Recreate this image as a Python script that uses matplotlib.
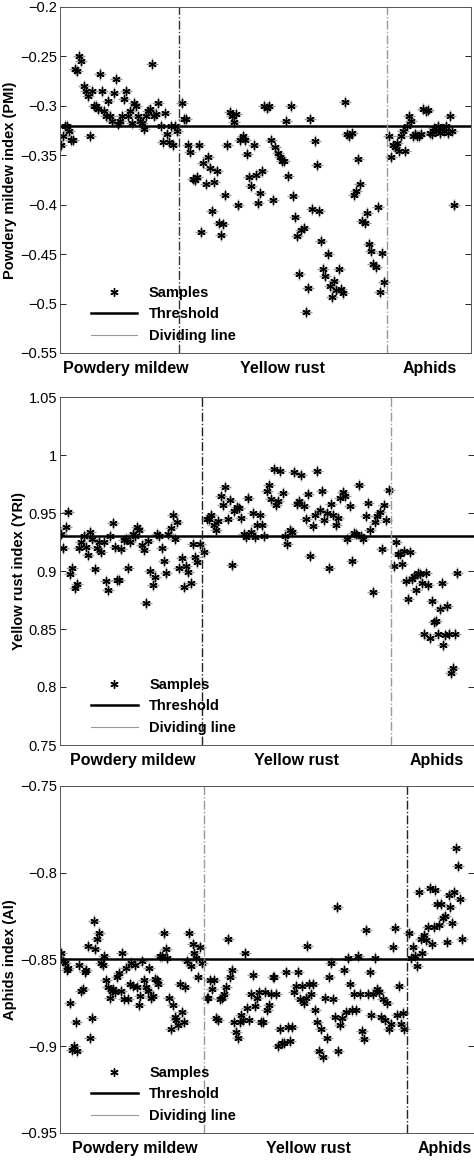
import numpy as np
import matplotlib.pyplot as plt

plt.rcParams['font.family'] = ['Liberation Sans', 'DejaVu Sans']

# ---- panel 1: PMI ----
pmi_pm = [-0.34, -0.33, -0.32, -0.32, -0.325, -0.335, -0.335, -0.263, -0.265, -0.25, -0.255, -0.28,
          -0.285, -0.29, -0.33, -0.285, -0.3, -0.3, -0.303, -0.268, -0.285, -0.305, -0.31, -0.295,
          -0.31, -0.315, -0.287, -0.273, -0.318, -0.315, -0.31, -0.293, -0.285, -0.31, -0.305, -0.317,
          -0.297, -0.3, -0.31, -0.315, -0.317, -0.323, -0.31, -0.305, -0.303, -0.258, -0.31, -0.308,
          -0.297, -0.32, -0.337, -0.307, -0.328, -0.337, -0.32, -0.34, -0.32, -0.325]
pmi_yr = [-0.297, -0.313, -0.313, -0.34, -0.347, -0.374, -0.375, -0.372, -0.34, -0.428, -0.358, -0.379,
          -0.352, -0.363, -0.406, -0.377, -0.366, -0.418, -0.431, -0.42, -0.39, -0.34, -0.306, -0.31,
          -0.316, -0.308, -0.4, -0.335, -0.33, -0.335, -0.349, -0.372, -0.381, -0.34, -0.37, -0.398,
          -0.388, -0.366, -0.3, -0.302, -0.3, -0.335, -0.395, -0.342, -0.348, -0.352, -0.356, -0.356,
          -0.315, -0.371, -0.3, -0.391, -0.412, -0.432, -0.47, -0.426, -0.424, -0.509, -0.484, -0.313,
          -0.404, -0.336, -0.36, -0.406, -0.437, -0.465, -0.472, -0.45, -0.482, -0.493, -0.477, -0.486,
          -0.465, -0.485, -0.489, -0.296, -0.328, -0.33, -0.327, -0.39, -0.386, -0.354, -0.379, -0.416,
          -0.418, -0.408, -0.44, -0.447, -0.46, -0.463, -0.402, -0.488, -0.449, -0.478]
pmi_ap = [-0.33, -0.352, -0.34, -0.342, -0.338, -0.346, -0.33, -0.325, -0.346, -0.32, -0.31, -0.315,
          -0.33, -0.328, -0.33, -0.33, -0.328, -0.303, -0.305, -0.304, -0.327, -0.328, -0.322, -0.325,
          -0.32, -0.327, -0.323, -0.325, -0.32, -0.327, -0.31, -0.325, -0.4]

# ---- panel 2: YRI ----
yri_pm = [0.932, 0.92, 0.938, 0.951, 0.897, 0.903, 0.885, 0.889, 0.92, 0.925, 0.93, 0.921, 0.914,
          0.934, 0.928, 0.902, 0.92, 0.925, 0.916, 0.925, 0.891, 0.884, 0.93, 0.941, 0.921, 0.892,
          0.892, 0.919, 0.927, 0.928, 0.903, 0.925, 0.932, 0.93, 0.938, 0.935, 0.922, 0.918, 0.872,
          0.926, 0.9, 0.888, 0.895, 0.932, 0.93, 0.92, 0.909, 0.898, 0.932, 0.937, 0.948, 0.928,
          0.942, 0.903, 0.911, 0.886, 0.904, 0.899, 0.89, 0.923, 0.912, 0.908, 0.923]
yri_yr = [0.916, 0.945, 0.945, 0.948, 0.94, 0.935, 0.943, 0.965, 0.957, 0.972, 0.945, 0.961, 0.905,
          0.952, 0.955, 0.954, 0.946, 0.932, 0.929, 0.963, 0.934, 0.95, 0.929, 0.94, 0.948, 0.94,
          0.93, 0.969, 0.974, 0.962, 0.988, 0.957, 0.96, 0.986, 0.967, 0.93, 0.923, 0.935, 0.934,
          0.985, 0.958, 0.96, 0.983, 0.956, 0.945, 0.966, 0.913, 0.939, 0.948, 0.986, 0.953, 0.969,
          0.944, 0.95, 0.903, 0.958, 0.948, 0.94, 0.946, 0.963, 0.968, 0.965, 0.928, 0.956, 0.909,
          0.933, 0.932, 0.974, 0.93, 0.928, 0.947, 0.959, 0.935, 0.882, 0.942, 0.947, 0.951, 0.919,
          0.957, 0.944, 0.97]
yri_ap = [0.904, 0.925, 0.915, 0.915, 0.906, 0.917, 0.891, 0.876, 0.916, 0.893, 0.896, 0.884, 0.898,
          0.897, 0.89, 0.846, 0.898, 0.888, 0.842, 0.874, 0.856, 0.857, 0.846, 0.867, 0.89, 0.836,
          0.845, 0.87, 0.846, 0.812, 0.816, 0.846, 0.898]

# ---- panel 3: AI ----
ai_pm = [-0.846, -0.851, -0.852, -0.856, -0.855, -0.875, -0.902, -0.9, -0.886, -0.903, -0.853, -0.868,
         -0.867, -0.857, -0.856, -0.842, -0.895, -0.884, -0.828, -0.844, -0.838, -0.835, -0.852, -0.853,
         -0.848, -0.862, -0.866, -0.872, -0.868, -0.867, -0.869, -0.86, -0.858, -0.868, -0.846, -0.873,
         -0.855, -0.873, -0.864, -0.852, -0.865, -0.853, -0.866, -0.876, -0.871, -0.851, -0.862, -0.866,
         -0.868, -0.855, -0.872, -0.871, -0.861, -0.862, -0.864, -0.848, -0.848, -0.835, -0.844, -0.849,
         -0.872, -0.89, -0.876, -0.883, -0.885, -0.888, -0.864, -0.88, -0.886, -0.866, -0.851, -0.835,
         -0.854, -0.841, -0.846, -0.849, -0.86, -0.843, -0.852]
ai_yr = [-0.872, -0.872, -0.862, -0.867, -0.862, -0.884, -0.885, -0.873, -0.872, -0.87, -0.866, -0.838,
         -0.86, -0.856, -0.886, -0.892, -0.895, -0.886, -0.882, -0.885, -0.846, -0.878, -0.885, -0.87,
         -0.859, -0.877, -0.872, -0.869, -0.886, -0.886, -0.869, -0.879, -0.876, -0.87, -0.86, -0.86,
         -0.87, -0.9, -0.89, -0.898, -0.898, -0.857, -0.889, -0.897, -0.889, -0.869, -0.865, -0.857,
         -0.873, -0.865, -0.875, -0.872, -0.842, -0.864, -0.87, -0.864, -0.879, -0.886, -0.903, -0.89,
         -0.906, -0.872, -0.895, -0.86, -0.852, -0.873, -0.883, -0.82, -0.903, -0.888, -0.884, -0.856,
         -0.88, -0.849, -0.864, -0.879, -0.87, -0.879, -0.848, -0.87, -0.891, -0.896, -0.833, -0.87,
         -0.857, -0.882, -0.87, -0.849, -0.867, -0.869, -0.883, -0.873, -0.885, -0.875, -0.89, -0.887,
         -0.843, -0.832, -0.882, -0.865, -0.887, -0.881, -0.89]
ai_ap = [-0.835, -0.849, -0.843, -0.848, -0.854, -0.811, -0.838, -0.846, -0.836, -0.839, -0.831, -0.809,
         -0.841, -0.831, -0.81, -0.818, -0.83, -0.818, -0.826, -0.825, -0.84, -0.813, -0.82, -0.829,
         -0.811, -0.786, -0.796, -0.815, -0.838]

groups = ["Powdery mildew", "Yellow rust", "Aphids"]

panels = [
    dict(data=[pmi_pm, pmi_yr, pmi_ap], thr=-0.32, ylim=(-0.55, -0.2),
         ticks=[-0.55, -0.5, -0.45, -0.4, -0.35, -0.3, -0.25, -0.2],
         div=[29.0, 79.5], end=95.8, label="Powdery mildew index (PMI)",
         divc=["#333333", "#999999"], box=[60, 7, 471, 353], cent=[16, 54, 90]),
    dict(data=[yri_pm, yri_yr, yri_ap], thr=0.93, ylim=(0.75, 1.05),
         ticks=[0.75, 0.8, 0.85, 0.9, 0.95, 1.0, 1.05],
         div=[34.3, 80.0], end=96.0, label="Yellow rust index (YRI)",
         divc=["#222222", "#999999"], box=[60, 397, 474, 745], cent=[17.5, 57, 91]),
    dict(data=[ai_pm, ai_yr, ai_ap], thr=-0.85, ylim=(-0.95, -0.75),
         ticks=[-0.95, -0.9, -0.85, -0.8, -0.75],
         div=[34.8, 83.8], end=97.0, label="Aphids index (AI)",
         divc=["#999999", "#222222"], box=[60, 786, 474, 1133], cent=[18, 60, 93]),
]

W, H = 474, 1160
fig = plt.figure(figsize=(W / 100, H / 100), dpi=100)

def fmt(v):
    return ("%g" % v).replace("-", "\u2212")

for p in panels:
    l, t, r, b = p["box"]
    ax = fig.add_axes([l / W, 1 - b / H, (r - l) / W, (b - t) / H])
    bounds = [0.3, p["div"][0], p["div"][1], p["end"]]
    for i, ys in enumerate(p["data"]):
        lo = bounds[i] + (0.6 if i else 0)
        hi = bounds[i + 1] - (0.6 if i < 2 else 0)
        xs = np.linspace(lo, hi, len(ys))
        ax.plot(xs, ys, linestyle="none", marker="+", ms=9, mew=1.0, color="#999999")
        ax.plot(xs, ys, linestyle="none", marker=(6, 2, 0), ms=6, mew=1.0, color="black",
                label="Samples" if i == 0 else None)
    ax.axhline(p["thr"], color="black", lw=1.8, label="Threshold")
    for k, xd in enumerate(p["div"]):
        ax.axvline(xd, color=p["divc"][k], lw=1.0, ls="-.")
    ax.plot([], [], color="#999999", lw=0.8, label="Dividing line")
    ax.set_xlim(0, 100)
    ax.set_ylim(*p["ylim"])
    ax.set_xticks([])
    ax.set_yticks(p["ticks"])
    ax.set_yticklabels([fmt(v) for v in p["ticks"]], fontsize=10.5)
    ax.tick_params(axis="y", direction="in", length=4, width=0.6, right=True, pad=2)
    for s in ax.spines.values():
        s.set_color("#555555")
        s.set_linewidth(0.7)
    ax.set_ylabel(p["label"], fontsize=10.5, fontweight="bold", labelpad=2)
    for c, g in zip(p["cent"], groups):
        ax.text(c / 100, -0.045, g, transform=ax.transAxes, ha="center", va="center",
                fontsize=11.5, fontweight="bold")
    leg = ax.legend(loc="lower left", frameon=False, fontsize=10.5, handlelength=3.2,
                    borderaxespad=0.3, labelspacing=0.5, bbox_to_anchor=(0.05, 0.0))
    for txt in leg.get_texts():
        txt.set_fontweight("bold")

fig.savefig("out.png", dpi=100)
